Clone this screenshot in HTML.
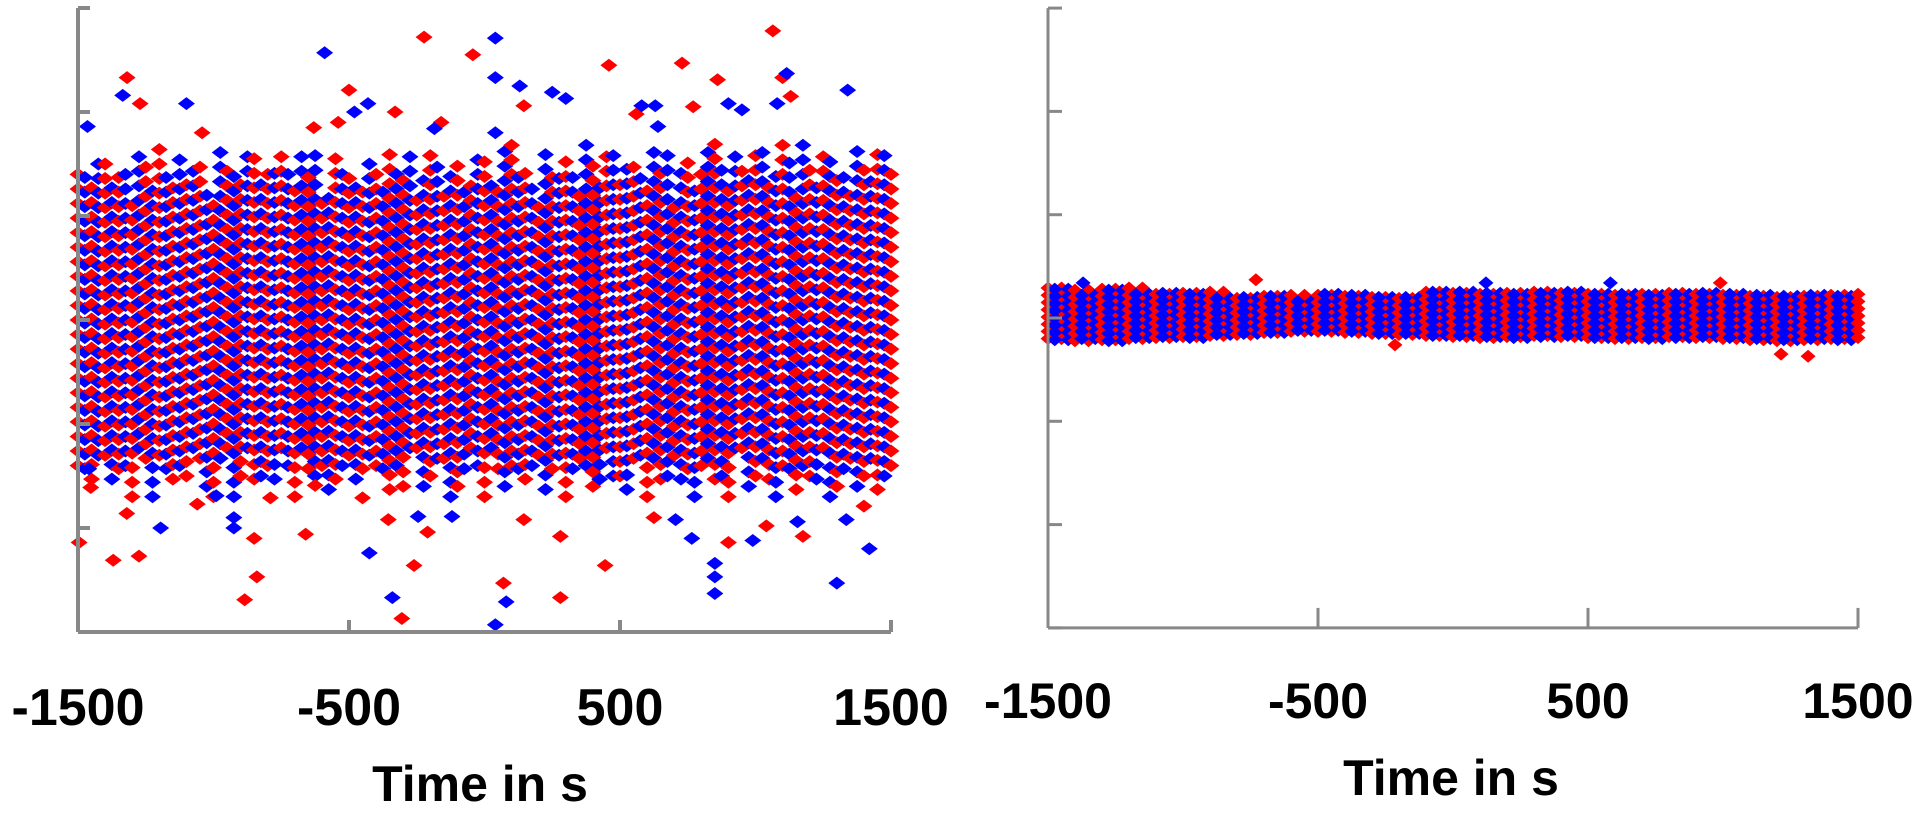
<!DOCTYPE html>
<html><head><meta charset="utf-8"><style>
html,body{margin:0;padding:0;background:#fff;}
svg{display:block;}
text{font-family:"Liberation Sans",sans-serif;font-weight:bold;fill:#000;}
</style></head><body>
<svg id="chart" width="1929" height="815" viewBox="0 0 1929 815" xmlns="http://www.w3.org/2000/svg">
<g id="left"></g>
<g id="right"></g>
</svg>
<script>
// ---------- data ----------
const xTicks = [-1500, -500, 500, 1500];
const xTickLabels = ["-1500", "-500", "500", "1500"];
const yTicks = [-3, -2, -1, 0, 1, 2, 3];
const axisTitle = "Time in s";
// left panel: core band per 50 s column (-1500..1500)
const leftRedHi = [1.5,1.3,1.6,1.4,1.2,1.5,1.7,1.3,1.4,1.6,1.2,1.5,1.3,1.6,1.4,1.7,1.3,1.5,1.2,1.6,1.4,1.3,1.5,1.7,1.4,1.2,1.6,1.3,1.5,1.4,1.6,1.3,1.7,1.5,1.2,1.4,1.6,1.3,1.5,1.7,1.4,1.6,1.3,1.5,1.2,1.6,1.4,1.7,1.3,1.5,1.6,1.4,1.7,1.3,1.5,1.6,1.4,1.2,1.5,1.6,1.4];
const leftRedLo = [-1.4,-1.6,-1.3,-1.5,-1.7,-1.4,-1.3,-1.6,-1.5,-1.4,-1.7,-1.3,-1.5,-1.6,-1.4,-1.3,-1.7,-1.5,-1.4,-1.6,-1.3,-1.5,-1.4,-1.7,-1.6,-1.3,-1.5,-1.4,-1.6,-1.3,-1.7,-1.5,-1.4,-1.6,-1.3,-1.5,-1.7,-1.4,-1.6,-1.3,-1.5,-1.4,-1.7,-1.6,-1.3,-1.5,-1.4,-1.6,-1.7,-1.3,-1.5,-1.6,-1.4,-1.7,-1.5,-1.3,-1.6,-1.4,-1.5,-1.7,-1.4];
const leftBlueHi = [1.4,1.6,1.3,1.5,1.7,1.3,1.4,1.6,1.5,1.3,1.7,1.4,1.6,1.3,1.5,1.4,1.6,1.7,1.3,1.5,1.4,1.6,1.3,1.5,1.7,1.4,1.6,1.5,1.3,1.6,1.4,1.7,1.5,1.3,1.6,1.4,1.5,1.7,1.3,1.6,1.5,1.4,1.7,1.6,1.5,1.3,1.7,1.5,1.6,1.4,1.7,1.5,1.6,1.8,1.4,1.6,1.5,1.7,1.4,1.6,1.5];
const leftBlueLo = [-1.5,-1.3,-1.6,-1.4,-1.3,-1.7,-1.5,-1.4,-1.3,-1.6,-1.4,-1.7,-1.3,-1.5,-1.6,-1.4,-1.3,-1.5,-1.7,-1.4,-1.6,-1.3,-1.5,-1.4,-1.3,-1.6,-1.4,-1.7,-1.5,-1.4,-1.3,-1.6,-1.5,-1.4,-1.7,-1.3,-1.5,-1.4,-1.6,-1.5,-1.7,-1.3,-1.4,-1.5,-1.6,-1.7,-1.4,-1.5,-1.3,-1.6,-1.4,-1.7,-1.5,-1.4,-1.6,-1.7,-1.5,-1.6,-1.4,-1.5,-1.6];
const leftRedOutT = [-1319,-1271,-223,-43,459,729,1064,-500,860,1100,1130,145,-1042,-330,-160,-540,-630,560,770,-1496,-1370,-1275,-1320,-1060,-885,-840,-850,-660,-450,-355,-260,-305,-210,70,145,280,280,445,625,900,1175,1040,1400,-1453,-790,-625];
const leftRedOutY = [2.33,2.08,2.72,2.55,2.45,2.47,2.78,2.21,2.31,2.33,2.15,2.06,1.8,2.0,1.9,1.9,1.85,1.98,2.05,-2.14,-2.31,-2.27,-1.86,-1.77,-2.69,-2.47,-2.1,-2.06,-1.71,-1.92,-2.36,-2.87,-2.04,-2.53,-1.92,-2.08,-2.67,-2.36,-1.9,-2.14,-2.08,-1.98,-1.79,-1.61,-1.71,-1.59];
const leftBlueOutT = [-590,40,-1465,-1335,-1100,40,130,250,300,1115,1080,1340,580,630,900,950,-430,-480,640,40,-185,-1195,-925,-925,-425,-245,-120,-340,40,80,850,850,850,765,1155,1300,1420,1335,990,705,-1460,-990];
const leftBlueOutY = [2.57,2.71,1.86,2.16,2.08,2.33,2.25,2.19,2.13,2.37,2.08,2.21,2.06,2.06,2.08,2.02,2.08,2.0,1.86,1.8,1.84,-2.0,-1.9,-2.0,-2.24,-1.89,-1.89,-2.67,-2.93,-2.71,-2.34,-2.47,-2.63,-2.1,-1.94,-2.53,-2.2,-1.92,-2.12,-1.92,-1.43,-1.69];
// right panel: band per 100 s segment (-1500..1500)
const rightRedHi = [0.30,0.30,0.28,0.29,0.27,0.26,0.25,0.24,0.24,0.23,0.22,0.22,0.23,0.24,0.25,0.26,0.27,0.26,0.25,0.24,0.24,0.25,0.26,0.27,0.27,0.26,0.25,0.26,0.25,0.24,0.23];
const rightRedLo = [-0.20,-0.22,-0.21,-0.20,-0.19,-0.18,-0.17,-0.16,-0.14,-0.13,-0.13,-0.14,-0.15,-0.16,-0.17,-0.18,-0.19,-0.18,-0.17,-0.18,-0.19,-0.20,-0.19,-0.18,-0.19,-0.20,-0.21,-0.22,-0.21,-0.20,-0.19];
const rightBlueHi = [0.28,0.27,0.29,0.27,0.26,0.25,0.24,0.23,0.22,0.22,0.23,0.23,0.24,0.26,0.26,0.27,0.26,0.25,0.26,0.25,0.25,0.26,0.27,0.26,0.26,0.25,0.26,0.25,0.24,0.23,0.22];
const rightBlueLo = [-0.21,-0.20,-0.22,-0.19,-0.18,-0.19,-0.16,-0.15,-0.14,-0.12,-0.12,-0.13,-0.15,-0.15,-0.17,-0.17,-0.18,-0.19,-0.18,-0.17,-0.19,-0.19,-0.20,-0.19,-0.18,-0.19,-0.20,-0.21,-0.20,-0.21,-0.20];
const rightRedOutT = [-730,-215,1215,1315,990];
const rightRedOutY = [0.37,-0.26,-0.35,-0.37,0.34];
const rightBlueOutT = [-1370,122,583];
const rightBlueOutY = [0.34,0.34,0.34];

// ---------- drawing ----------
const NS = "http://www.w3.org/2000/svg";
function mk(tag, attrs, parent){ const e=document.createElementNS(NS,tag); for(const k in attrs) e.setAttribute(k,attrs[k]); parent.appendChild(e); return e; }

function panel(g, cfg){
  const xs = t => cfg.x0 + (t + 1500) / 3000 * (cfg.x1 - cfg.x0);
  const ys = v => cfg.yc - v * cfg.ppu;
  const marks = mk("g", {}, g);
  
  
  function diamond(t, v, color, w, h){
    const cx = xs(t), cy = ys(v);
    const p = mk("polygon", {points:`${cx-w/2},${cy} ${cx},${cy-h/2} ${cx+w/2},${cy} ${cx},${cy+h/2}`, fill:color}, marks);
    
    
  }
  cfg.drawData(diamond);
  const ax = mk("g", {stroke:"#888", "stroke-width":cfg.sw, fill:"none"}, g);
  
  
  const yl = mk("line", {x1:cfg.x0, y1:ys(3), x2:cfg.x0, y2:ys(-3)}, ax);
  
  
  const xl = mk("line", {x1:cfg.x0, y1:ys(-3), x2:cfg.x1, y2:ys(-3)}, ax);
  
  
  yTicks.forEach(v => {
    const l = mk("line", {x1:cfg.x0, y1:ys(v), x2:cfg.x0 + cfg.ytl, y2:ys(v)}, ax);
    
    
  });
  xTicks.forEach((t, i) => {
    const l = mk("line", {x1:xs(t), y1:ys(-3), x2:xs(t), y2:ys(-3) - cfg.xtl}, ax);
    
    
    const tx = mk("text", {x:xs(t), y:cfg.labY, "text-anchor":"middle", "font-size":cfg.fs}, g);
    tx.textContent = xTickLabels[i];
    
    
  });
  const ttl = mk("text", {x:cfg.titleX, y:cfg.titleY, "text-anchor":"middle", "font-size":50}, g);
  ttl.textContent = axisTitle;
  
  
}

panel(document.getElementById("left"), {
  x0:78, x1:891, yc:320, ppu:104, sw:4, ytl:12, xtl:12, labY:725, fs:52, titleX:480, titleY:801,
  drawData(d){
    for (let i = 0; i < leftRedHi.length; i++) {
      const t = -1500 + i * 50;
      const off = (i % 2) * 0.07;
      for (let v = leftRedLo[i] + off; v <= leftRedHi[i] + 1e-6; v += 0.14) d(t, v, "#ff0000", 17, 13);
      if (t + 25 <= 1500) for (let v = leftBlueLo[i] + 0.07 - off; v <= leftBlueHi[i] + 1e-6; v += 0.14) d(t + 25, v, "#0000ff", 17, 13);
    }
    leftRedOutT.forEach((t, i) => d(t, leftRedOutY[i], "#ff0000", 17, 13));
    leftBlueOutT.forEach((t, i) => d(t, leftBlueOutY[i], "#0000ff", 17, 13));
  }
});

panel(document.getElementById("right"), {
  x0:1048, x1:1858, yc:318, ppu:103.3, sw:3, ytl:14, xtl:20, labY:718, fs:50, titleX:1451, titleY:795,
  drawData(d){
    for (let i = 0; i < rightRedHi.length; i++) {
      const t0 = -1500 + i * 100;
      [0, 50].forEach(o => { const t = t0 + o; if (t <= 1500) for (let v = rightRedLo[i]; v <= rightRedHi[i] + 1e-6; v += 0.07) d(t, v, "#ff0000", 15, 13); });
      [25, 75].forEach(o => { const t = t0 + o; if (t <= 1500) for (let v = rightBlueLo[i]; v <= rightBlueHi[i] + 1e-6; v += 0.07) d(t, v, "#0000ff", 15, 13); });
    }
    rightRedOutT.forEach((t, i) => d(t, rightRedOutY[i], "#ff0000", 15, 13));
    rightBlueOutT.forEach((t, i) => d(t, rightBlueOutY[i], "#0000ff", 15, 13));
  }
});
</script>
</body></html>
